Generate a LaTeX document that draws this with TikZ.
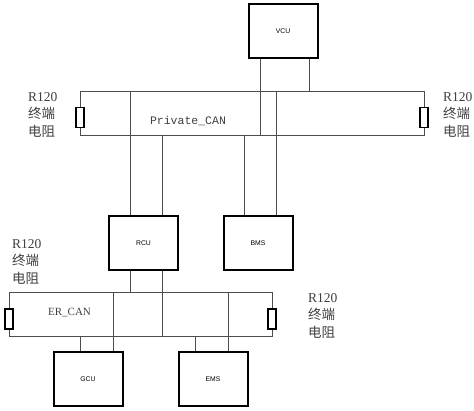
\documentclass[tikz,border=0pt]{standalone}
\usepackage{fontspec}
\setmainfont{Liberation Serif}
\newfontfamily\cjk{Noto Sans CJK SC}
\newfontfamily\monof{Liberation Mono}
\newfontfamily\boxf{Liberation Sans}
\begin{document}
\begin{tikzpicture}[x=1pt,y=-1pt,
  ecu/.style={draw=black,line width=2pt,minimum width=69pt,minimum height=54pt,inner sep=0pt,font=\boxf\fontsize{6.8}{7}\selectfont},
  wire/.style={draw=black!70,line width=0.9pt},
  res/.style={draw=black,line width=1.8pt,fill=white,minimum width=8pt,minimum height=20pt,inner sep=0pt},
  lbl/.style={align=left,inner sep=0pt,text=black!75,font=\fontsize{13.5}{17.5}\selectfont},
]
\useasboundingbox (0,0) rectangle (474,411);
% boxes
\node[ecu] (vcu) at (283,31.5) {VCU};
\node[ecu] (rcu) at (143.5,243.5) {RCU};
\node[ecu] (bms) at (258,243.5) {BMS};
\node[ecu] (gcu) at (88,379.5) {GCU};
\node[ecu] (ems) at (213,379.5) {EMS};
% bus coordinates
\coordinate (t1) at (80,91); \coordinate (t2) at (424,91);
\coordinate (t3) at (424,135); \coordinate (t4) at (80,135);
\coordinate (b1) at (9,292); \coordinate (b2) at (272,292);
\coordinate (b3) at (272,336); \coordinate (b4) at (9,336);
\draw[wire] (t1) -- (t2) -- (t3) -- (t4) -- cycle;
\draw[wire] (b1) -- (b2) -- (b3) -- (b4) -- cycle;
% resistors
\node[res] (rtl) at (80,117.5) {};
\node[res] (rtr) at (424,117.5) {};
\node[res] (rbl) at (9,319) {};
\node[res] (rbr) at (272,319) {};
% taps top bus
\draw[wire] (vcu.south -| 260,0) -- (260,135);
\draw[wire] (vcu.south -| 309,0) -- (309,91);
\draw[wire] (130,91) -- (rcu.north -| 130,0);
\draw[wire] (162,135) -- (rcu.north -| 162,0);
\draw[wire] (244,135) -- (bms.north -| 244,0);
\draw[wire] (276,91) -- (bms.north -| 276,0);
% taps bottom bus
\draw[wire] (rcu.south -| 130,0) -- (130,292);
\draw[wire] (rcu.south -| 162,0) -- (162,336);
\draw[wire] (80,336) -- (gcu.north -| 80,0);
\draw[wire] (113,292) -- (gcu.north -| 113,0);
\draw[wire] (195,336) -- (ems.north -| 195,0);
\draw[wire] (228,292) -- (ems.north -| 228,0);
% labels
\node[lbl,anchor=north west] (l1) at (28,92) {R120\\{\cjk 终端}\\{\cjk 电阻}};
\node[lbl,anchor=north west] (l2) at (443,92) {R120\\{\cjk 终端}\\{\cjk 电阻}};
\node[lbl,anchor=north west] (l3) at (12,239) {R120\\{\cjk 终端}\\{\cjk 电阻}};
\node[lbl,anchor=north west] (l4) at (308,293) {R120\\{\cjk 终端}\\{\cjk 电阻}};
\node[inner sep=0pt,text=black!75,font=\monof\fontsize{11.5}{12}\selectfont] (pc) at (188,121) {Private\_CAN};
\node[inner sep=0pt,text=black!75,font=\fontsize{11}{12}\selectfont] (ec) at (69.5,313) {ER\_CAN};
\end{tikzpicture}
\end{document}
